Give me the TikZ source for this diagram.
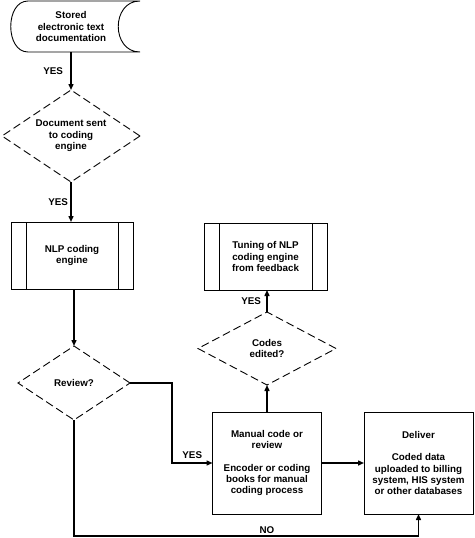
\documentclass[tikz,border=0pt]{standalone}
\usepackage{fontspec}
\setmainfont{Liberation Sans}
\usetikzlibrary{shapes.geometric}
\usetikzlibrary{arrows.meta}
\tikzstyle{flowtext}=[font=\bfseries\fontsize{9.8}{11.4}\selectfont, align=center, inner sep=0, outer sep=0]
\tikzstyle{decision}=[flowtext, draw, diamond, line width=0.9pt, dash pattern=on 8pt off 4pt]
\tikzstyle{box}=[flowtext, draw, rectangle, line width=0.9pt]
\tikzstyle{predefined}=[box,
                        % Inner bars of a predefined process.
                        path picture={\draw[line width=0.9pt]
                          ([xshift=15pt]path picture bounding box.north west) -- ([xshift=15pt]path picture bounding box.south west)
                          ([xshift=-15pt]path picture bounding box.north east) -- ([xshift=-15pt]path picture bounding box.south east);}]
\tikzstyle{flow}=[line width=1.4pt, -{Triangle[length=6pt, width=5pt]}]
\tikzstyle{answer}=[flowtext]
\begin{document}
\begin{tikzpicture}[x=1pt, y=-1pt]
        \useasboundingbox (0, 0) rectangle (474, 538);
        % Stored data shape.
        \draw[line width=0.9pt] (28, 1) -- (140, 1) .. controls (111, 1) and (111, 52) .. (140, 52)
            -- (28, 52) .. controls (5, 52) and (5, 1) .. (28, 1) -- cycle;
        \node[flowtext, minimum height=51pt] (stored) at (71, 26.5) {Stored\\electronic text\\documentation};
        \node[decision, shape aspect=1.5, minimum width=138pt, minimum height=92pt] (sent) at (71, 136) {Document sent\\to coding\\engine};
        \node[predefined, minimum width=122pt, minimum height=67pt] (nlp) at (72, 255.5) {NLP coding\\engine};
        \node[decision, shape aspect=1.5, minimum width=112pt, minimum height=74pt] (review) at (74, 383) {Review?};
        \node[box, minimum width=109pt, minimum height=102pt] (manual) at (267, 463) {Manual code or\\review\\[11pt]Encoder or coding\\books for manual\\coding process};
        \node[box, minimum width=109pt, minimum height=102pt] (deliver) at (418.5, 463) {Deliver\\[11pt]Coded data\\uploaded to billing\\system, HIS system\\or other databases};
        \node[decision, shape aspect=1.9, minimum width=138pt, minimum height=73pt] (edited) at (267, 348.5) {Codes\\edited?};
        \node[predefined, minimum width=123pt, minimum height=67pt] (tuning) at (265.5, 256.5) {Tuning of NLP\\coding engine\\from feedback};
        \coordinate (bottom) at (0, 536);
        \coordinate (bend) at (172, 383);
        \draw[flow] (stored.south) -- node[answer, left=8pt] (yes1) {YES} (sent.north);
        \draw[flow] (sent.south) -- node[answer, left=3pt] (yes2) {YES} (sent.south |- nlp.north);
        \draw[flow] (review.north |- nlp.south) -- (review.north);
        \draw[flow] (review.east) -- (bend) |- node[answer, pos=0.75, above=4pt] (yes3) {YES} (manual.west);
        \draw[flow] (manual.east) -- (deliver.west);
        \draw[flow] (manual.north) -- (edited.south);
        \draw[flow] (edited.north) -- node[answer, left=6pt] (yes4) {YES} (edited.north |- tuning.south);
        \draw[flow] (review.south) -- (review.south |- bottom) -| node[answer, pos=0.28, above=2pt] (no) {NO} (deliver.south);
    \end{tikzpicture}
\end{document}
